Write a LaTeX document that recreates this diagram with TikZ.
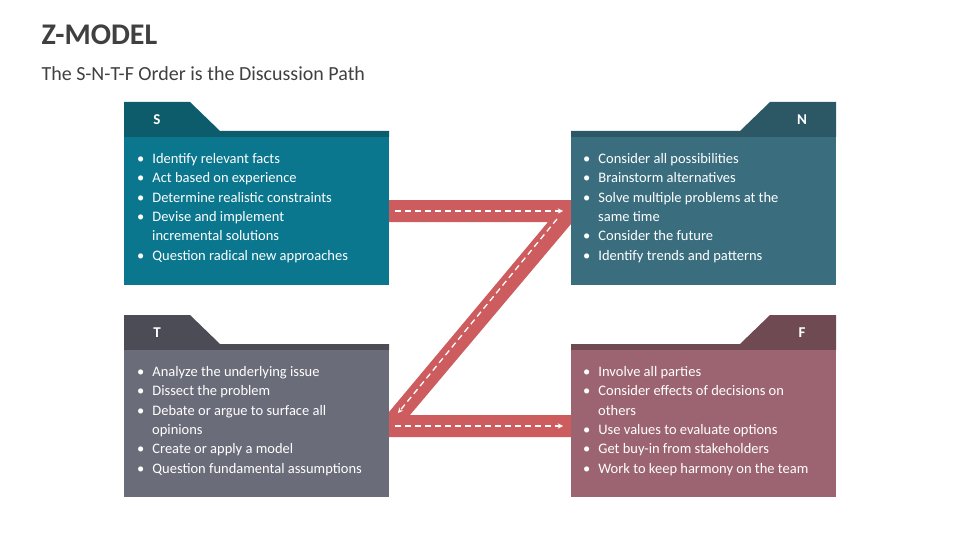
\documentclass[tikz,border=0pt]{standalone}
\usepackage{fontspec}
\setmainfont{Carlito}
\begin{document}
\begin{tikzpicture}[x=1pt,y=-1pt,
 body/.style={font=\fontsize{14.5}{19.4}\selectfont,text=white,align=left,anchor=north west,inner sep=0pt},
 tab/.style={font=\fontsize{15}{18}\selectfont\bfseries,text=white,anchor=center},
 dsh/.style={white,line width=1.3pt,dash pattern=on 6pt off 4pt,-stealth}]
\useasboundingbox (0,0) rectangle (960,540);
\definecolor{sB}{HTML}{0A778F}\definecolor{sH}{HTML}{0C5C6C}
\definecolor{nB}{HTML}{3A6E7F}\definecolor{nH}{HTML}{2C5866}
\definecolor{tB}{HTML}{6B6C79}\definecolor{tH}{HTML}{4C4C57}
\definecolor{fB}{HTML}{9C6470}\definecolor{fH}{HTML}{6F4A52}
\definecolor{zC}{HTML}{CD5C5F}
\node[anchor=west,font=\fontsize{30}{32}\selectfont\bfseries,text=black!75] (title) at (38,35) {Z-MODEL};
\node[anchor=west,font=\fontsize{20}{22}\selectfont,text=black!75] (sub) at (38,74) {The S-N-T-F Order is the Discussion Path};
% Z band
\fill[zC] (389,200)--(571,200)--(571,224)--(410,415)--(571,415)--(571,437)--(389,437)--(389,412)--(548,222)--(389,222)--cycle;
% S
\fill[sH] (124,102)--(190,102)--(220,131)--(389,131)--(389,137)--(124,137)--cycle;
\fill[sB] (124,137) rectangle (389,285);
\node[tab] (s) at (157,120) {S};
\node[body] (sb) at (137,153) {\textbullet\hspace{8pt}Identify relevant facts\\\textbullet\hspace{8pt}Act based on experience\\\textbullet\hspace{8pt}Determine realistic constraints\\\textbullet\hspace{8pt}Devise and implement\\\hspace{15pt}incremental solutions\\\textbullet\hspace{8pt}Question radical new approaches};
% N
\fill[nH] (836,102)--(770,102)--(740,131)--(571,131)--(571,137)--(836,137)--cycle;
\fill[nB] (571,137) rectangle (836,285);
\node[tab] (n) at (802,120) {N};
\node[body] (nb) at (583,153) {\textbullet\hspace{8pt}Consider all possibilities\\\textbullet\hspace{8pt}Brainstorm alternatives\\\textbullet\hspace{8pt}Solve multiple problems at the\\\hspace{15pt}same time\\\textbullet\hspace{8pt}Consider the future\\\textbullet\hspace{8pt}Identify trends and patterns};
% T
\fill[tH] (124,315)--(190,315)--(220,344)--(389,344)--(389,350)--(124,350)--cycle;
\fill[tB] (124,350) rectangle (389,497);
\node[tab] (t) at (157,333) {T};
\node[body] (tb) at (137,366) {\textbullet\hspace{8pt}Analyze the underlying issue\\\textbullet\hspace{8pt}Dissect the problem\\\textbullet\hspace{8pt}Debate or argue to surface all\\\hspace{15pt}opinions\\\textbullet\hspace{8pt}Create or apply a model\\\textbullet\hspace{8pt}Question fundamental assumptions};
% F
\fill[fH] (836,315)--(770,315)--(740,344)--(571,344)--(571,350)--(836,350)--cycle;
\fill[fB] (571,350) rectangle (836,497);
\node[tab] (f) at (802,333) {F};
\node[body] (fb) at (583,366) {\textbullet\hspace{8pt}Involve all parties\\\textbullet\hspace{8pt}Consider effects of decisions on\\\hspace{15pt}others\\\textbullet\hspace{8pt}Use values to evaluate options\\\textbullet\hspace{8pt}Get buy-in from stakeholders\\\textbullet\hspace{8pt}Work to keep harmony on the team};
% arrows
\coordinate (a1) at (395,211);\coordinate (a2) at (563,211);
\coordinate (b1) at (557,219);\coordinate (b2) at (398,413);
\coordinate (c1) at (395,426);\coordinate (c2) at (563,426);
\draw[dsh] (a1)--(a2);
\draw[dsh] (b1)--(b2);
\draw[dsh] (c1)--(c2);
\end{tikzpicture}
\end{document}
